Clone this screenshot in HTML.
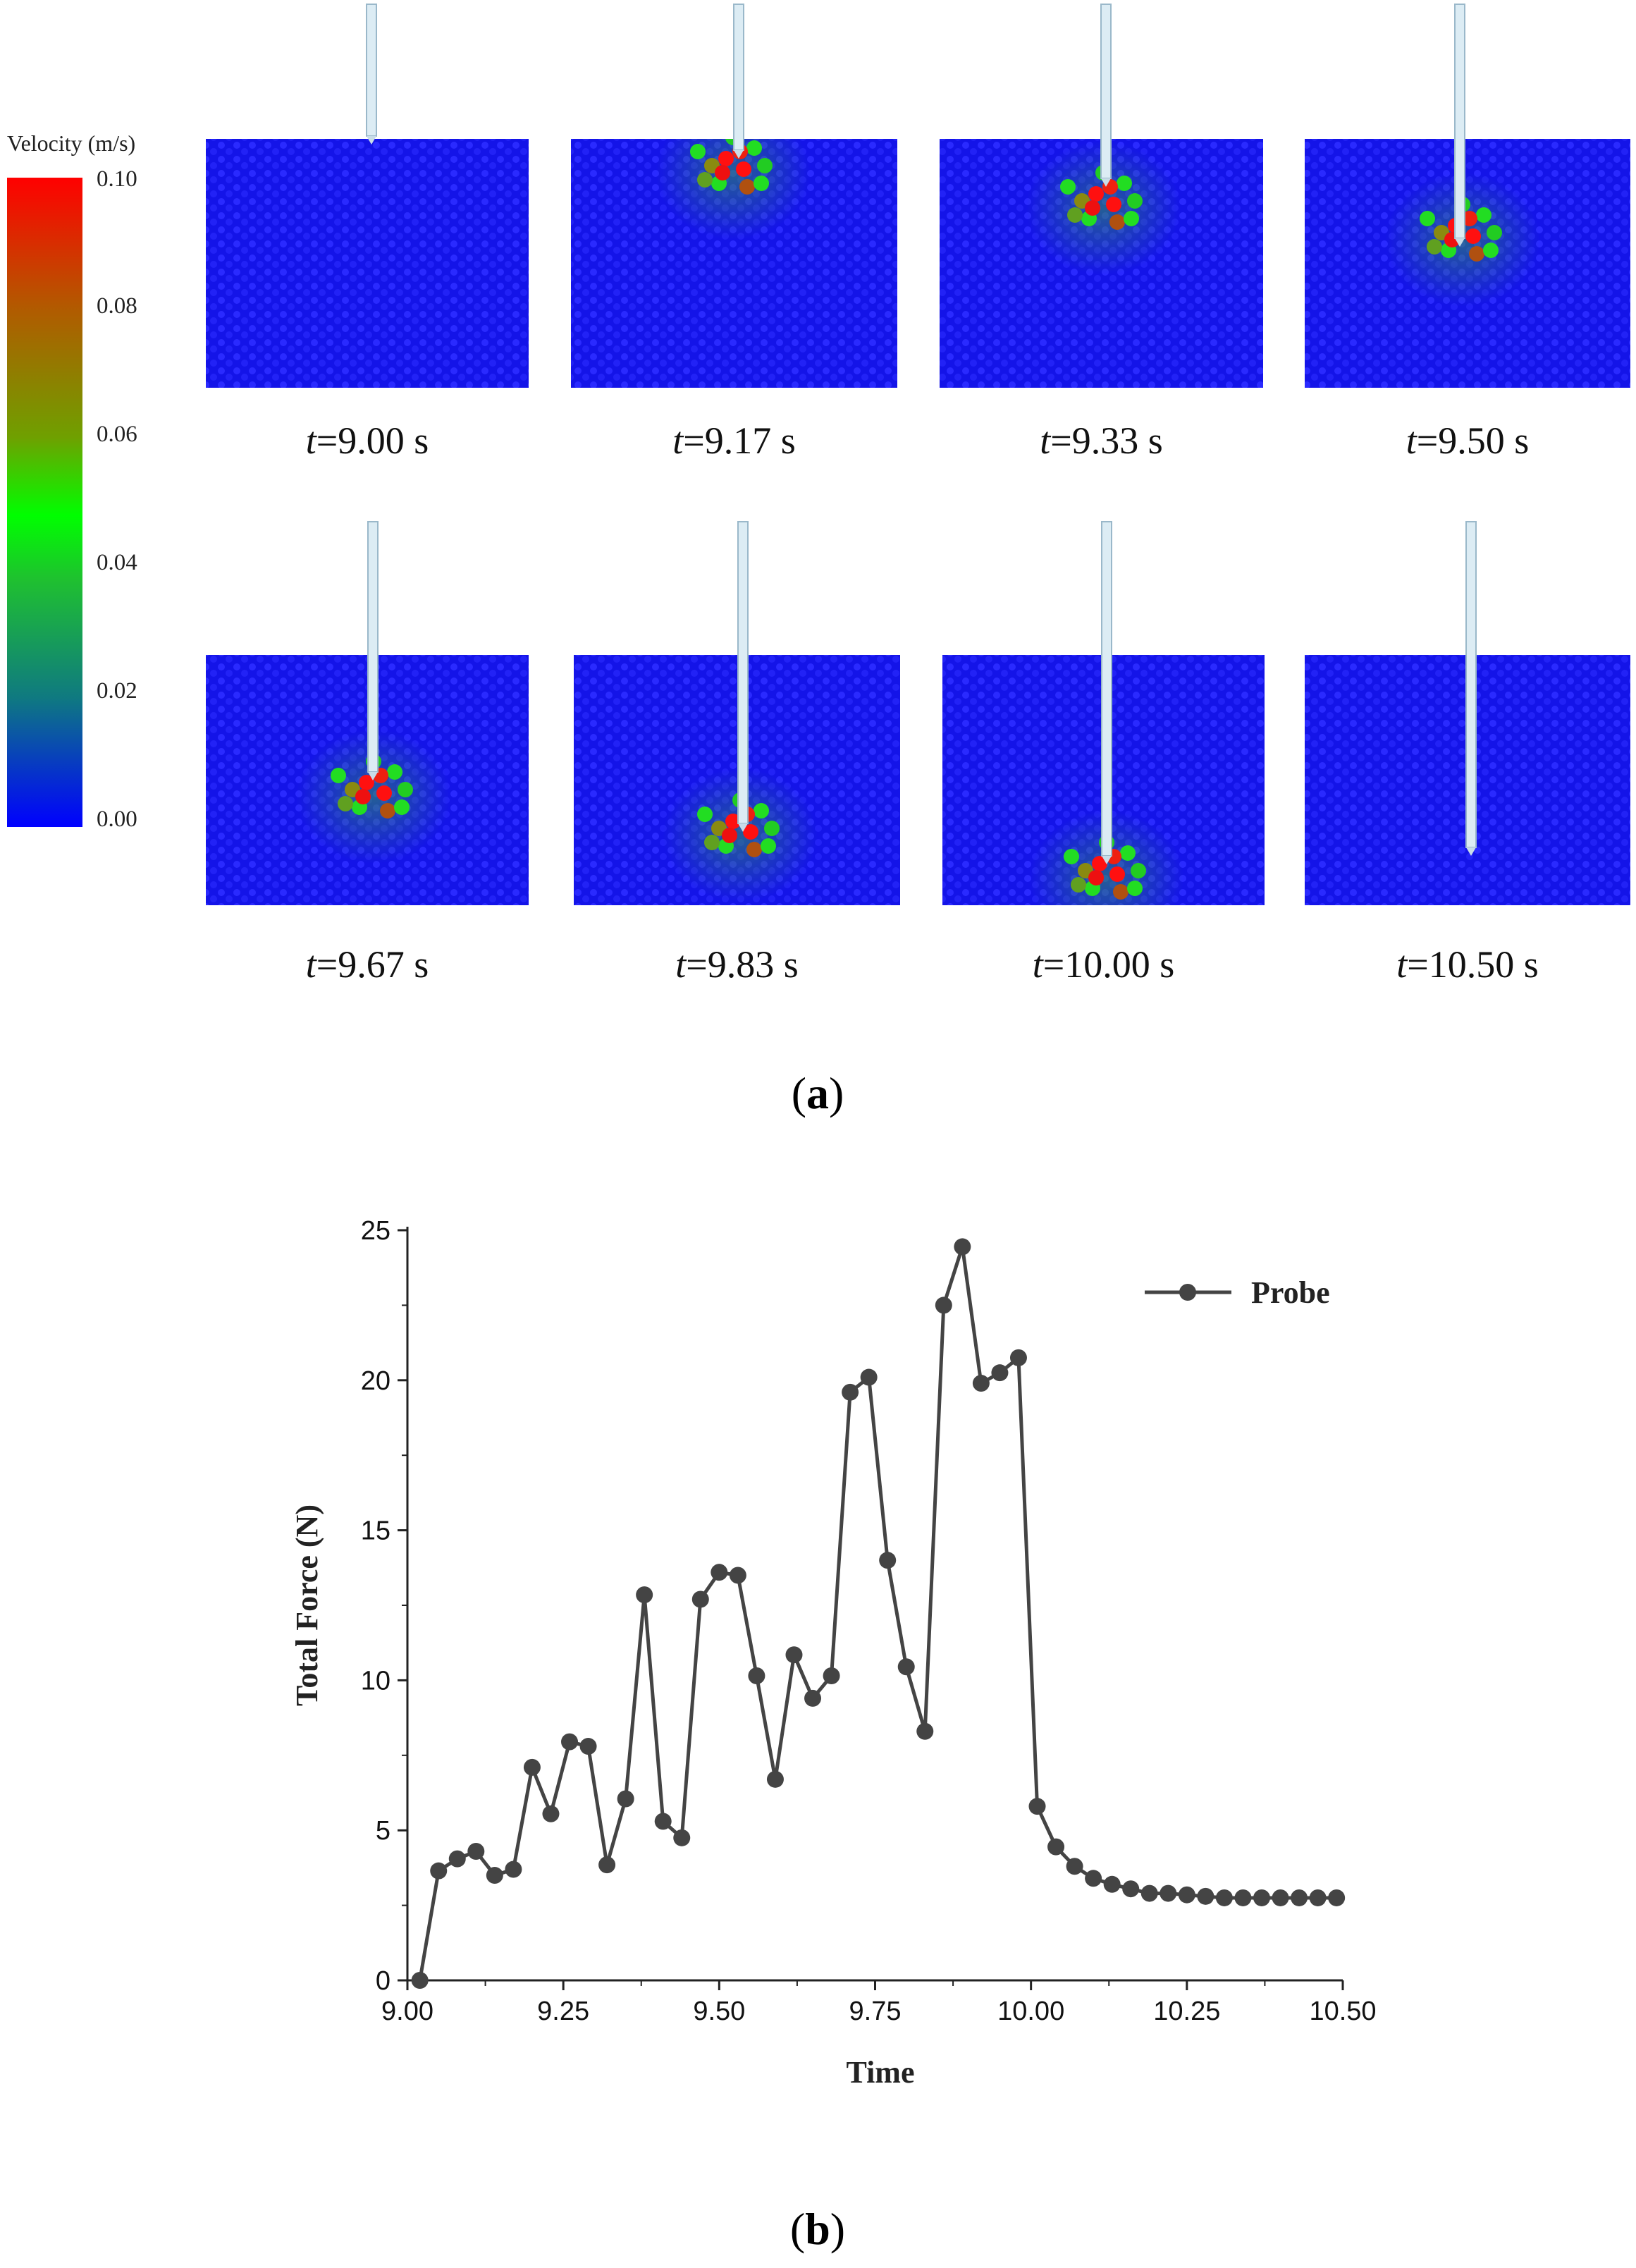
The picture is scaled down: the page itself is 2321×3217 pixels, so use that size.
<!DOCTYPE html>
<html><head><meta charset="utf-8"><style>
html,body{margin:0;padding:0;background:#fff;}
svg{display:block;}
.serif{font-family:"Liberation Serif",serif;}
.sans{font-family:"Liberation Sans",sans-serif;}
</style></head><body>
<svg id="fig" width="2321" height="3217" viewBox="0 0 2321 3217" xmlns="http://www.w3.org/2000/svg">
<defs id="defs">
<linearGradient id="cb" x1="0" y1="0" x2="0" y2="1">
<stop offset="0" stop-color="#ff0000"/>
<stop offset="0.2" stop-color="#b25a00"/>
<stop offset="0.4" stop-color="#6fa000"/>
<stop offset="0.52" stop-color="#00ff00"/>
<stop offset="0.62" stop-color="#1fc030"/>
<stop offset="0.8" stop-color="#0f7a80"/>
<stop offset="1" stop-color="#0000ff"/>
</linearGradient>
<pattern id="grain" width="22" height="20" patternUnits="userSpaceOnUse">
<rect width="22" height="20" fill="#1414e8"/>
<circle cx="6" cy="6" r="5" fill="#2a2aff"/>
<circle cx="17" cy="15" r="5" fill="#2222f6"/>
</pattern>
<radialGradient id="halo"><stop offset="0" stop-color="#2f8f60" stop-opacity="0.6"/><stop offset="1" stop-color="#2f8f60" stop-opacity="0"/></radialGradient>
</defs>
<g id="panels"></g>
<g id="colorbar">
<text x="10" y="214" class="serif" font-size="32" fill="#222">Velocity (m/s)</text>
<rect x="10" y="252" width="107" height="921" fill="url(#cb)"/>
<text x="137" y="264" class="serif" font-size="33" fill="#222">0.10</text>
<text x="137" y="444" class="serif" font-size="33" fill="#222">0.08</text>
<text x="137" y="626" class="serif" font-size="33" fill="#222">0.06</text>
<text x="137" y="808" class="serif" font-size="33" fill="#222">0.04</text>
<text x="137" y="990" class="serif" font-size="33" fill="#222">0.02</text>
<text x="137" y="1172" class="serif" font-size="33" fill="#222">0.00</text>
</g>
<text x="1160" y="1572" text-anchor="middle" class="serif" font-size="64">(<tspan font-weight="bold">a</tspan>)</text>
<text x="1160" y="3183" text-anchor="middle" class="serif" font-size="64">(<tspan font-weight="bold">b</tspan>)</text>
<g id="chart"></g>
</svg>
<script>
const times = [9.02,9.05,9.08,9.11,9.14,9.17,9.20,9.23,9.26,9.29,9.32,9.35,9.38,9.41,9.44,9.47,9.50,9.53,9.56,9.59,9.62,9.65,9.68,9.71,9.74,9.77,9.80,9.83,9.86,9.89,9.92,9.95,9.98,10.01,10.04,10.07,10.10,10.13,10.16,10.19,10.22,10.25,10.28,10.31,10.34,10.37,10.40,10.43,10.46,10.49];
const force = [0,3.65,4.05,4.3,3.5,3.7,7.1,5.55,7.95,7.8,3.85,6.05,12.85,5.3,4.75,12.7,13.6,13.5,10.15,6.7,10.85,9.4,10.15,19.6,20.1,14.0,10.45,8.3,22.5,24.45,19.9,20.25,20.75,5.8,4.45,3.8,3.4,3.2,3.05,2.9,2.9,2.85,2.8,2.75,2.75,2.75,2.75,2.75,2.75,2.75];
const xTicks = [9.00,9.25,9.50,9.75,10.00,10.25,10.50];
const xTickLabels = ["9.00","9.25","9.50","9.75","10.00","10.25","10.50"];
const yTicks = [0,5,10,15,20,25];
const yTickLabels = ["0","5","10","15","20","25"];
const snapLabels = ["9.00","9.17","9.33","9.50","9.67","9.83","10.00","10.50"];

const NS="http://www.w3.org/2000/svg";
function mk(tag,attrs,parent){const e=document.createElementNS(NS,tag);for(const k in attrs)e.setAttribute(k,attrs[k]);parent.appendChild(e);return e;}

const defs=document.getElementById('defs');
const panelG=document.getElementById('panels');
const boxes=[[292,750,197,550],[810,1273,197,550],[1333,1792,197,550],[1851,2313,197,550],
[292,750,929,1284],[814,1277,929,1284],[1337,1794,929,1284],[1851,2313,929,1284]];
const probes=[[527,205],[1048,225],[1569,265],[2071,350],[529,1107],[1054,1180],[1570,1226],[2087,1214]];
const hot=[null,[1040,225],[1565,275],[2075,320],[530,1110],[1050,1165],[1570,1225],null];
boxes.forEach((b,i)=>{
  const cp=mk('clipPath',{id:'cp'+i},defs);
  mk('rect',{x:b[0],y:b[2],width:b[1]-b[0],height:b[3]-b[2]},cp);
  const g=mk('g',{'clip-path':'url(#cp'+i+')'},panelG);
  
  
  mk('rect',{x:b[0],y:b[2],width:b[1]-b[0],height:b[3]-b[2],fill:'url(#grain)'},g);
  if(hot[i]){
    const [hx,hy]=hot[i];
    mk('ellipse',{cx:hx,cy:hy+20,rx:110,ry:95,fill:'url(#halo)'},g);
    const offs=[[-50,-10,'#22dd22'],[-30,10,'#8a8a10'],[30,-15,'#22dd22'],[45,10,'#22cc22'],[-20,35,'#22dd22'],[20,40,'#b05010'],[0,-30,'#22cc22'],[-40,30,'#60a020'],[40,35,'#22dd22'],[-10,0,'#ff1010'],[15,15,'#ff1010'],[-15,20,'#ee1010'],[10,-10,'#ee2010']];
    offs.forEach(o=>mk('circle',{cx:hx+o[0],cy:hy+o[1],r:11,fill:o[2]},g));
  }
  const [px,pt]=probes[i];
  const top=i<4?6:740;
  const pr=mk('g',{},panelG);
  
  
  mk('rect',{x:px-7,y:top,width:14,height:pt-top-12,fill:'#dcecf4',stroke:'#9ab8ca','stroke-width':2},pr);
  mk('polygon',{points:`${px-7},${pt-12} ${px+7},${pt-12} ${px},${pt}`,fill:'#c8dce8'},pr);
  const t=mk('text',{x:(b[0]+b[1])/2,y:i<4?643:1386,'text-anchor':'middle','font-size':54,class:'serif',fill:'#111'},panelG);
  
  
  t.innerHTML='<tspan font-style="italic">t</tspan>='+snapLabels[i]+' s';
});

const ch=document.getElementById('chart');
const X0=578,X1=1905,Y0=2809,Y1=1745;
const xs=v=>X0+(v-9)/1.5*(X1-X0);
const ys=v=>Y0-v/25*(Y0-Y1);
const ax=mk('path',{d:`M${X0},${Y1-5} L${X0},${Y0} L${X1},${Y0}`,fill:'none',stroke:'#222','stroke-width':3},ch);


xTicks.forEach((v,i)=>{
  mk('line',{x1:xs(v),y1:Y0,x2:xs(v),y2:Y0+14,stroke:'#222','stroke-width':3},ch);
  if(i<xTicks.length-1) mk('line',{x1:xs(v+0.125),y1:Y0,x2:xs(v+0.125),y2:Y0+8,stroke:'#222','stroke-width':2},ch);
  const t=mk('text',{x:xs(v),y:Y0+56,'text-anchor':'middle','font-size':38,class:'sans',fill:'#111'},ch);
  
  
  t.textContent=xTickLabels[i];
});
yTicks.forEach((v,i)=>{
  mk('line',{x1:X0-14,y1:ys(v),x2:X0,y2:ys(v),stroke:'#222','stroke-width':3},ch);
  if(i<yTicks.length-1) mk('line',{x1:X0-8,y1:ys(v+2.5),x2:X0,y2:ys(v+2.5),stroke:'#222','stroke-width':2},ch);
  const t=mk('text',{x:X0-24,y:ys(v)+13,'text-anchor':'end','font-size':38,class:'sans',fill:'#111'},ch);
  
  
  t.textContent=yTickLabels[i];
});
const yt=mk('text',{x:0,y:0,transform:'translate(450,2277) rotate(-90)','text-anchor':'middle','font-size':44,'font-weight':'bold',class:'serif',fill:'#222'},ch);


yt.textContent='Total Force (N)';
const xt=mk('text',{x:1249,y:2954,'text-anchor':'middle','font-size':44,'font-weight':'bold',class:'serif',fill:'#222'},ch);


xt.textContent='Time';
const line=mk('polyline',{points:times.map((t,i)=>xs(t)+','+ys(force[i])).join(' '),fill:'none',stroke:'#444','stroke-width':5},ch);


times.forEach((t,i)=>{
  const c=mk('circle',{cx:xs(t),cy:ys(force[i]),r:12,fill:'#444'},ch);
  
  
});
const lg=mk('g',{},ch);


mk('line',{x1:1624,y1:1833,x2:1747,y2:1833,stroke:'#444','stroke-width':5},lg);
mk('circle',{cx:1685,cy:1833,r:12,fill:'#444'},lg);
const lt=mk('text',{x:1775,y:1848,'font-size':44,'font-weight':'bold',class:'serif',fill:'#222'},lg);
lt.textContent='Probe';
</script>
</body></html>
